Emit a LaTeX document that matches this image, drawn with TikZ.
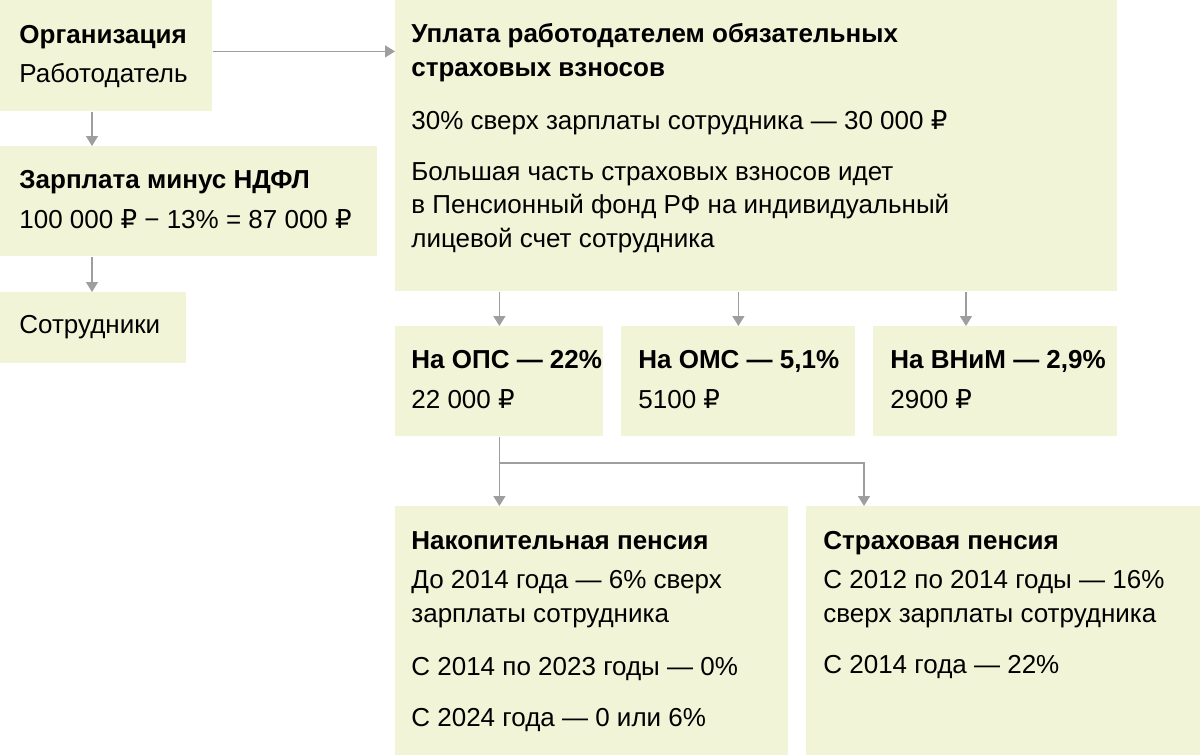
\documentclass[tikz,border=0pt]{standalone}
\usepackage{fontspec}
\setmainfont{Liberation Sans}
\newfontfamily\rubfont{DejaVu Sans}
\newcommand\rub{{\rubfont ₽}}
\usetikzlibrary{arrows.meta}
\definecolor{boxfill}{RGB}{242,244,215}
\definecolor{linegray}{RGB}{158,158,158}
\begin{document}
\begin{tikzpicture}[x=0.5pt, y=-0.5pt,
  box/.style={fill=boxfill, anchor=north west, inner sep=0pt},
  txt/.style={anchor=base west, inner sep=0pt, font=\fontsize{13}{15}\selectfont},
  ttl/.style={txt, font=\fontsize{13}{15}\selectfont\bfseries},
  arr/.style={draw=linegray, line width=0.75pt, -{Triangle[width=6pt, length=5pt]}}]

\useasboundingbox (0,0) rectangle (1200,755);

% Boxes
\node[box, minimum width=106pt, minimum height=55.5pt] (org) at (0,0) {};
\node[box, minimum width=188.5pt, minimum height=55pt] (zar) at (0,146) {};
\node[box, minimum width=93pt, minimum height=35.5pt] (sot) at (0,292) {};
\node[box, minimum width=361pt, minimum height=145.5pt] (upl) at (395,0) {};
\node[box, minimum width=104pt, minimum height=55pt] (ops) at (395,326) {};
\node[box, minimum width=117pt, minimum height=55pt] (oms) at (621,326) {};
\node[box, minimum width=122pt, minimum height=55pt] (vnim) at (873,326) {};
\node[box, minimum width=196.5pt, minimum height=124.5pt] (nak) at (395,506) {};
\node[box, minimum width=197pt, minimum height=124.5pt] (str) at (806,506) {};

% Left column
\node[ttl] (orgT) at (19,43) {Организация};
\node[txt] (orgS) at (19,82) {Работодатель};
\node[ttl] (zarT) at (19,188) {Зарплата минус НДФЛ};
\node[txt] (zarS) at (19,228) {100 000 \rub{} − 13\% = 87 000 \rub};
\node[txt] (sotT) at (19,333) {Сотрудники};

% Contributions
\node[ttl] (uplT1) at (411,42) {Уплата работодателем обязательных};
\node[ttl] (uplT2) at (411,76) {страховых взносов};
\node[txt] (uplS) at (411,129) {30\% сверх зарплаты сотрудника — 30 000 \rub};
\node[txt] (uplP1) at (411,180) {Большая часть страховых взносов идет};
\node[txt] (uplP2) at (411,213) {в Пенсионный фонд РФ на индивидуальный};
\node[txt] (uplP3) at (411,247) {лицевой счет сотрудника};

\node[ttl] (opsT) at (411,368) {На ОПС — 22\%};
\node[txt] (opsS) at (411,408) {22 000 \rub};
\node[ttl] (omsT) at (638,368) {На ОМС — 5,1\%};
\node[txt] (omsS) at (638,408) {5100 \rub};
\node[ttl] (vnimT) at (890,368) {На ВНиМ — 2,9\%};
\node[txt] (vnimS) at (890,408) {2900 \rub};

% Pensions
\node[ttl] (nakT) at (411,549) {Накопительная пенсия};
\node[txt] (nak1) at (411,588) {До 2014 года — 6\% сверх};
\node[txt] (nak2) at (411,622) {зарплаты сотрудника};
\node[txt] (nak3) at (411,675) {С 2014 по 2023 годы — 0\%};
\node[txt] (nak4) at (411,726) {С 2024 года — 0 или 6\%};

\node[ttl] (strT) at (823,549) {Страховая пенсия};
\node[txt] (str1) at (823,588) {С 2012 по 2014 годы — 16\%};
\node[txt] (str2) at (823,622) {сверх зарплаты сотрудника};
\node[txt] (str3) at (823,673) {С 2014 года — 22\%};

% Arrows
\coordinate (lx) at (92,0);
\coordinate (vx) at (966,0);
\coordinate (sx) at (864,463);
\draw[arr] (org.south -| lx) -- (zar.north -| lx);
\draw[arr] (zar.south -| lx) -- (sot.north -| lx);
\draw[arr] ([yshift=2.25pt]org.east) -- ([yshift=2.25pt]org.east -| upl.west);
\draw[arr] (ops.north |- upl.south) -- (ops.north);
\draw[arr] (oms.north |- upl.south) -- (oms.north);
\draw[arr] (vx |- upl.south) -- (vx |- vnim.north);
\draw[arr] (ops.south) -- (ops.south |- nak.north);
\draw[arr] (ops.south |- sx) -- (sx) -- (sx |- str.north);

\end{tikzpicture}
\end{document}
